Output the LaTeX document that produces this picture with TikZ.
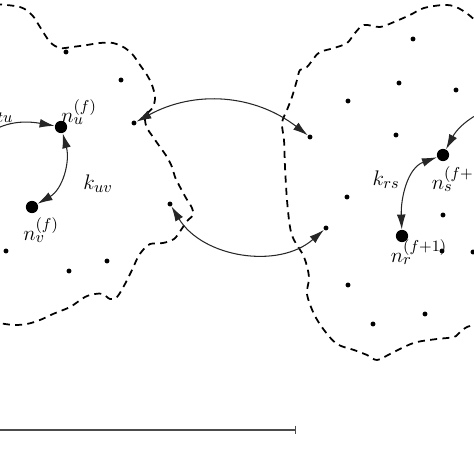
\documentclass[tikz,border=0pt]{standalone}
\usetikzlibrary{arrows.meta}
\begin{document}
\begin{tikzpicture}[x=0.02cm, y=0.02cm, >={Latex[length=8.5pt,width=5pt]},
  dot/.style={circle, fill, inner sep=0pt, minimum size=2.8pt},
  bigdot/.style={circle, fill, inner sep=0pt, minimum size=7pt},
  rim/.style={dash pattern=on 4pt off 3pt, line width=1pt, line join=round},
  link/.style={line width=0.6pt, black!85},
  lab/.style={font=\fontsize{13}{15}\selectfont, inner sep=0pt}]
\useasboundingbox (0,0) rectangle (474,474);

% Draw the fragment rims
\draw[rim] plot[smooth, tension=0.55] coordinates {(-5,470) (20,467) (32,459) (40,447) (50,432)
  (60,426) (72,427) (87,429) (100,431) (113,431) (125,426) (133,419) (140,409) (147,399)
  (152,389) (155,377) (153,367) (147,360) (145,354) (147,346) (153,337) (160,327) (167,317)
  (172,307) (175,297) (180,287) (186,276) (192,266) (193,259) (187,253) (181,244) (174,235)
  (163,231) (150,230) (143,224) (138,217) (132,204) (125,190) (117,177) (110,175) (103,180)
  (95,180) (85,177) (70,167) (53,160) (40,154) (27,150) (15,149) (5,150) (-5,152)};
\draw[rim] plot[smooth, tension=0.55] coordinates {(482,447) (469,459) (456,467) (444,469)
  (424,466) (410,459) (394,452) (380,447) (364,449) (355,441) (347,431) (334,426) (320,422)
  (314,416) (307,407) (300,404) (297,394) (292,377) (287,364) (282,351) (284,334) (285,307)
  (287,274) (290,247) (294,234) (304,217) (309,197) (307,180) (314,160) (324,144) (337,130)
  (354,124) (367,119) (377,114) (390,120) (404,127) (417,132) (437,135) (454,137) (460,142)
  (467,147) (482,151)};

% the particles
\foreach \p/\q [count=\i] in {66/422,121/394,134/351,170/270,6/223,69/203,107/213}
  \node[dot] (a\i) at (\p,\q) {};
\foreach \p/\q [count=\i] in {413/435,399/391,456/384,348/373,310/337,396/339,347/277,
  326/246,443/259,442/223,473/222,348/189,425/160,373/150}
  \node[dot] (b\i) at (\p,\q) {};

\node[bigdot] (nu) at (61,347) {};
\node[bigdot] (nv) at (32,267) {};
\node[bigdot] (ns) at (443,319) {};
\node[bigdot] (nr) at (402,238) {};

\node[lab] (lnu) at (79,362) {$n_u^{(f)}$};
\node[lab] (lnv) at (41,244) {$n_v^{(f)}$};
\node[lab] (lns) at (460,295) {$n_s^{(f+1)}$};
\node[lab] (lnr) at (419,222) {$n_r^{(f+1)}$};
\node[lab] (ktu) at (0,360) {$k_{tu}$};
\node[lab] (kuv) at (98,290) {$k_{uv}$};
\node[lab] (krs) at (386,294) {$k_{rs}$};

% the bonds
\coordinate (tin) at (-22,332);
\coordinate (qin) at (486,364);
\draw[link, ->] (tin) to[out=45, in=170] (nu);
\draw[link, <->] (nv) to[out=30, in=-75] (nu);
\draw[link, <->] (nr) to[out=92, in=200] (ns);
\draw[link, ->] (qin) to[out=205, in=62] (ns);
\draw[link, <->] (a3) to[bend left=33] (b5);
\draw[link, <->] (a4) to[bend right=50] (b8);

% scale bar
\coordinate (s0) at (-5,44);
\coordinate (s1) at (296,44);
\draw[line width=0.8pt, black!70, -{Bar[width=5pt]}] (s0) -- (s1);
\end{tikzpicture}
\end{document}
